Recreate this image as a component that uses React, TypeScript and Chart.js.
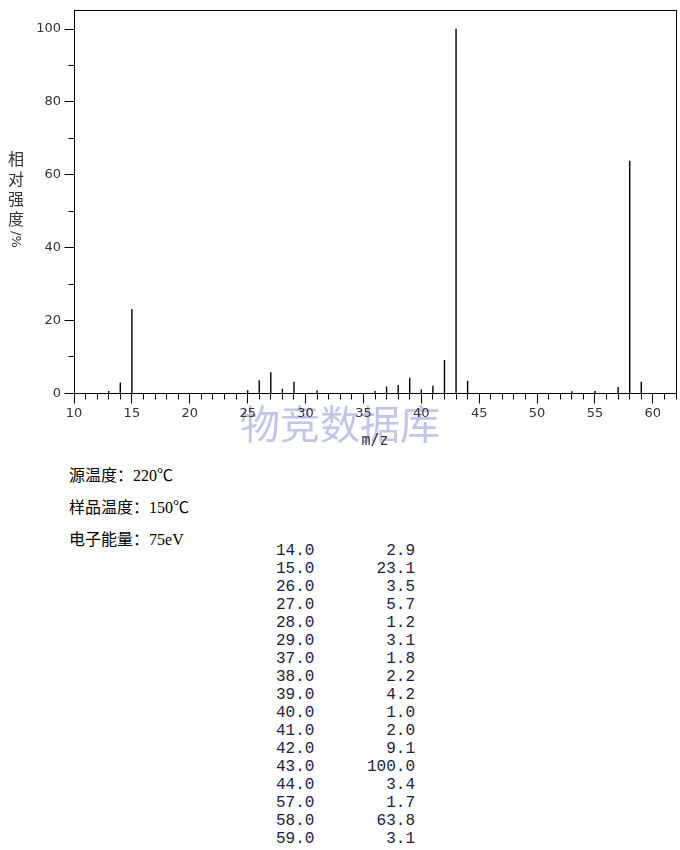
import React, { useEffect, useRef } from 'react';
import { Chart, registerables } from 'chart.js';

Chart.register(...registerables);

// m/z of every peak drawn in the spectrum and its relative intensity (%)
const mzValues = [13, 14, 15, 25, 26, 27, 28, 29, 31, 36, 37, 38, 39, 40, 41, 42, 43, 44, 53, 55, 57, 58, 59];
const intensities = [0.6, 2.9, 23.1, 0.8, 3.5, 5.7, 1.2, 3.1, 0.7, 0.6, 1.8, 2.2, 4.2, 1.0, 2.0, 9.1, 100.0, 3.4, 0.5, 0.6, 1.7, 63.8, 3.1];

const xTickLabels = [10, 15, 20, 25, 30, 35, 40, 45, 50, 55, 60];
const yTickLabels = [0, 20, 40, 60, 80, 100];

const conditionNames = ['源温度', '样品温度', '电子能量'];
const conditionValues = ['220℃', '150℃', '75eV'];

const yAxisTitleCjk = '相对强度';
const yAxisTitleUnit = '/%';
const xAxisTitle = 'm/z';
const watermark = '物竞数据库';

// table lists peaks with intensity >= 1.0
const tableRows = mzValues
  .map((m, i) => ({ m, v: intensities[i] }))
  .filter((r) => r.v >= 1.0);

const framePlugin = {
  id: 'frameTicks',
  beforeDraw(chart: any) {
    const { ctx } = chart;
    ctx.save();
    ctx.fillStyle = 'rgb(196,196,234)';
    ctx.font = '40px "Noto Sans CJK SC"';
    ctx.textAlign = 'center';
    ctx.textBaseline = 'middle';
    ctx.fillText(watermark, 340, 424);
    ctx.restore();
  },
  afterDraw(chart: any) {
    const { ctx, chartArea: a, scales } = chart;
    const xs = scales.x;
    const ys = scales.y;
    const L = Math.floor(a.left) + 0.5;
    const R = Math.floor(a.right) + 0.5;
    const T = Math.floor(a.top) + 0.5;
    const B = Math.floor(a.bottom) + 0.5;
    ctx.save();
    ctx.strokeStyle = '#000';
    ctx.lineWidth = 1;
    ctx.strokeRect(L, T, R - L, B - T);
    ctx.beginPath();
    xs.ticks.forEach((t: any) => {
      const v = t.value;
      if (!Number.isInteger(v)) return;
      const px = Math.floor(xs.getPixelForValue(v)) + 0.5;
      const len = v % 5 === 0 ? 10 : 6;
      ctx.moveTo(px, B);
      ctx.lineTo(px, B + len);
    });
    ys.ticks.forEach((t: any) => {
      const v = t.value;
      if (v % 10 !== 0 || v > 100) return;
      const py = Math.floor(ys.getPixelForValue(v)) + 0.5;
      const len = v % 20 === 0 ? 10 : 6;
      ctx.moveTo(L, py);
      ctx.lineTo(L - len, py);
    });
    ctx.stroke();
    ctx.restore();
  },
};

function SpectrumChart() {
  const ref = useRef<HTMLCanvasElement | null>(null);
  useEffect(() => {
    if (!ref.current) return;
    const chart = new Chart(ref.current, {
      type: 'bar',
      data: {
        datasets: [
          {
            data: mzValues.map((m, i) => ({ x: m, y: intensities[i] })),
            backgroundColor: '#000',
            borderWidth: 0,
            barThickness: 1,
            inflateAmount: 0.2,
          } as any,
        ],
      },
      options: {
        animation: false,
        responsive: false,
        devicePixelRatio: 1,
        layout: { padding: { top: 9.3, right: 4, left: 0, bottom: 0 } },
        plugins: { legend: { display: false }, tooltip: { enabled: false } },
        scales: {
          x: {
            type: 'linear',
            min: 10,
            max: 62,
            offset: false,
            afterFit: (s: any) => {
              s.height = 450 - 393.3;
            },
            ticks: {
              stepSize: 1,
              autoSkip: false,
              maxRotation: 0,
              minRotation: 0,
              padding: 3,
              color: '#333',
              font: { family: 'DejaVu Sans', size: 13 },
              callback: (v: any) => (xTickLabels.includes(Number(v)) ? String(v) : ''),
            },
            grid: { display: true, drawOnChartArea: false, drawTicks: true, tickLength: 10, color: 'transparent', offset: false },
            border: { display: false },
            title: {
              display: true,
              text: xAxisTitle,
              color: '#333',
              align: 'center',
              font: { family: 'DejaVu Sans Mono', size: 15 },
              padding: { top: 0, bottom: 0 },
            },
          },
          y: {
            type: 'linear',
            min: 0,
            max: 105,
            afterFit: (s: any) => {
              s.width = 74;
            },
            ticks: {
              stepSize: 10,
              autoSkip: false,
              padding: 3,
              color: '#333',
              font: { family: 'DejaVu Sans', size: 13 },
              callback: (v: any) => (yTickLabels.includes(Number(v)) ? String(v) : ''),
            },
            grid: { display: true, drawOnChartArea: false, drawTicks: true, tickLength: 10, color: 'transparent' },
            border: { display: false },
          },
        },
      } as any,
      plugins: [framePlugin],
    });
    return () => chart.destroy();
  }, []);
  return (
    <canvas
      ref={ref}
      width={680}
      height={450}
      style={{ position: 'absolute', left: 0, top: 0, width: 680, height: 450 }}
    />
  );
}

export default function App() {
  return (
    <div style={{ position: 'absolute', left: 0, top: 0, width: 680, height: 850, background: '#fff', overflow: 'hidden' }}>
      <SpectrumChart />
      <div
        style={{
          position: 'absolute',
          left: 8,
          top: 151,
          writingMode: 'vertical-rl',
          fontFamily: '"Noto Sans CJK SC"',
          fontSize: 16,
          lineHeight: '16px',
          color: '#333',
        }}
      >
        <span style={{ letterSpacing: 4 }}>{yAxisTitleCjk}</span>
        <span style={{ fontFamily: '"DejaVu Sans"', fontSize: 13, letterSpacing: 0 }}>{yAxisTitleUnit}</span>
      </div>
      <div
        style={{
          position: 'absolute',
          left: 69,
          top: 460,
          fontFamily: '"Liberation Serif", "Noto Sans CJK SC", serif',
          fontSize: 16,
          lineHeight: '32px',
          color: '#000',
        }}
      >
        {conditionNames.map((n, i) => (
          <div key={n}>
            {n}：{conditionValues[i]}
          </div>
        ))}
      </div>
      <div
        style={{
          position: 'absolute',
          left: 276,
          top: 542,
          width: 139,
          fontFamily: '"Liberation Mono", monospace',
          fontSize: 16,
          lineHeight: '18px',
          color: '#1c1c40',
        }}
      >
        {tableRows.map((r) => (
          <div key={r.m} style={{ display: 'flex', justifyContent: 'space-between' }}>
            <span>{r.m.toFixed(1)}</span>
            <span>{r.v.toFixed(1)}</span>
          </div>
        ))}
      </div>
    </div>
  );
}
